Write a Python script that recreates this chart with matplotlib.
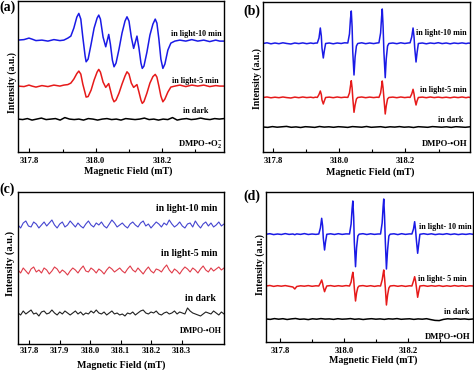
import numpy as np
import matplotlib.pyplot as plt

plt.rcParams['font.family'] = ['Liberation Serif', 'DejaVu Serif']
plt.rcParams['font.weight'] = 'bold'
plt.rcParams['mathtext.fontset'] = 'custom'
plt.rcParams['mathtext.rm'] = 'Liberation Serif:bold'
plt.rcParams['mathtext.it'] = 'Liberation Serif:bold'
plt.rcParams['mathtext.bf'] = 'Liberation Serif:bold'

# ---- panel (a): DMPO-O2- spectra ----
field_a = [317.766, 317.784, 317.799, 317.808, 317.820, 317.838, 317.856, 317.874, 317.892, 317.904,
           317.916, 317.925, 317.934, 317.943, 317.949, 317.955, 317.961, 317.968, 317.971, 317.977,
           317.986, 317.995, 318.004, 318.009, 318.014, 318.022, 318.030, 318.039, 318.044, 318.050,
           318.055, 318.061, 318.070, 318.079, 318.088, 318.094, 318.100, 318.107, 318.114, 318.124,
           318.130, 318.136, 318.140, 318.145, 318.154, 318.163, 318.172, 318.179, 318.184, 318.190,
           318.196, 318.202, 318.208, 318.217, 318.226, 318.238, 318.253, 318.271, 318.289, 318.307,
           318.325, 318.343, 318.361, 318.373, 318.386]
light10_a = [112, 112.5, 114, 113, 111.5, 112, 111, 112.5, 111.5, 112,
             114, 116, 124, 135, 138.7, 133, 115, 96, 90.3, 93,
             108, 124, 134, 137, 133, 115, 105.3, 117.7, 108, 92,
             85.3, 89, 103, 119, 131, 135.3, 131, 115, 103.7, 116,
             104, 89, 83.7, 86, 100, 117, 128, 133, 129, 113,
             93, 83.7, 88, 102, 109, 111, 112, 111, 112.5, 111,
             112, 110.5, 112, 111, 111]
light5_a = [66, 65.5, 67, 66, 65, 66.5, 65.5, 67, 66, 67,
            67.5, 69, 73, 78.5, 81, 78, 68, 59, 55, 55.5,
            62, 72, 80, 82.7, 80, 70, 64.7, 68.5, 62, 54,
            50.3, 52, 59, 68, 76, 80.3, 78, 69, 64.7, 67.5,
            60, 52, 48.7, 50.5, 59, 69, 75.5, 77.7, 75, 66,
            56, 50.3, 53, 60, 65, 66, 67, 65.5, 67, 66,
            67, 65.5, 66.5, 66, 66]
dark_a = [33, 32.5, 33.5, 32, 33, 34, 32.5, 33, 33.5, 32, 34.5, 33, 32.5, 33, 32,
          33.5, 33, 32, 33, 33.5, 32.5, 33, 32, 33.5, 33, 32.5, 33, 34, 32.5, 33,
          32, 33, 32.5, 34.5, 32, 33, 33.5, 32.5, 33, 34, 33, 32.5, 33.5, 33, 33.5]

# ---- panel (b): DMPO-OH spectra ----
field_b = [317.770, 317.782, 317.794, 317.806, 317.818, 317.830, 317.842, 317.854, 317.866, 317.878,
           317.890, 317.902, 317.914, 317.922, 317.928, 317.934, 317.939, 317.943, 317.946, 317.948,
           317.952, 317.955, 317.959, 317.970, 317.982, 317.994, 318.006, 318.016, 318.026, 318.031,
           318.034, 318.0365, 318.039, 318.041, 318.0447, 318.048, 318.052, 318.056, 318.068, 318.080,
           318.092, 318.104, 318.114, 318.120, 318.125, 318.128, 318.130, 318.1325, 318.135, 318.139,
           318.142, 318.146, 318.150, 318.162, 318.174, 318.186, 318.198, 318.208, 318.214, 318.219,
           318.223, 318.226, 318.228, 318.232, 318.235, 318.239, 318.251, 318.263, 318.275, 318.287,
           318.299, 318.311, 318.323, 318.335, 318.347, 318.359, 318.371, 318.383, 318.390, 318.395]
light10_b = [108.5, 109.2, 108.2, 109.0, 108.3, 109.2, 108.5, 108.0, 109.0, 108.4,
             109.1, 108.3, 109.0, 108.5, 108.9, 109.0, 114, 124, 116, 104,
             94, 101, 108.5, 109.0, 108.2, 109.0, 108.5, 109.2, 109.0, 118,
             133, 141, 125, 100, 77, 95, 106, 108.5, 109.2, 108.3,
             109.0, 108.4, 109.0, 109.2, 119, 135, 143, 126, 100, 74.3,
             93, 106, 108.5, 109.0, 108.3, 109.2, 108.5, 109.0, 109.2, 115,
             124, 115, 104, 90, 99, 108.5, 109.0, 108.2, 109.0, 108.5,
             109.3, 108.4, 109.0, 108.2, 109.0, 108.5, 109.1, 108.4, 108.9, 108.8]
light5_b = [54.5, 55.0, 54.2, 54.8, 54.3, 55.0, 54.4, 54.0, 54.9, 54.3,
            55.0, 54.4, 54.8, 54.3, 54.8, 54.6, 57.5, 61, 57.5, 52,
            48, 51, 54.5, 54.9, 54.3, 55.0, 54.4, 54.8, 54.6, 59,
            66, 71.3, 64, 54, 39.7, 47, 53, 54.5, 55.0, 54.3,
            54.9, 54.4, 54.8, 54.6, 59, 66, 71, 64, 54, 38,
            46, 53, 54.5, 54.9, 54.3, 55.0, 54.4, 54.8, 54.6, 58,
            62.7, 58, 53, 47, 51, 54.5, 54.9, 54.3, 55.0, 54.4,
            54.9, 54.3, 54.8, 54.2, 54.9, 54.4, 55.0, 54.3, 54.8, 54.6]
dark_b = [25, 24.6, 25.4, 24.8, 25.2, 25.6, 24.7, 25.1, 24.5, 25.3, 25.0, 24.6, 25.5, 24.9, 25.2,
          24.7, 25.3, 25.0, 24.6, 25.4, 25.1, 24.8, 25.5, 24.7, 25.0, 25.3, 24.6, 25.2, 24.9, 25.4,
          24.8, 25.1, 24.5, 25.3, 25.0, 24.7, 25.4, 25.1, 24.8, 25.2, 24.6, 25.3, 25.0, 24.7, 25.2]

# ---- panel (c): no signal ----
light10_c = [119, 116, 121, 123, 118, 117, 122, 120, 116, 119, 122, 118, 121, 124, 119, 116,
             120, 122, 117, 119, 123, 120, 117, 121, 118, 116, 120, 123, 119, 117, 121, 119,
             122, 118, 116, 120, 124, 121, 117, 119, 121, 118, 116, 120, 122, 119, 117, 121,
             123, 118, 120, 116, 119, 122, 120, 117, 121, 119, 124, 120, 117, 119, 122, 118,
             116, 120, 121, 117, 123, 119, 116, 120, 122, 118, 121, 117, 119, 122, 118, 120]
light5_c = [74, 71, 76, 73, 70, 75, 77, 72, 74, 71, 76, 74, 70, 73, 77, 75,
            71, 74, 72, 69, 73, 76, 74, 71, 75, 78, 73, 72, 76, 74, 71, 75,
            73, 70, 74, 77, 75, 72, 74, 76, 73, 71, 75, 78, 74, 72, 76, 73,
            70, 74, 77, 73, 71, 75, 74, 72, 76, 79, 74, 71, 75, 73, 70, 74,
            77, 75, 72, 76, 74, 71, 75, 78, 74, 72, 76, 73, 75, 77, 74, 76]
dark_c = [31, 29, 33, 30, 32, 34, 30, 31, 28, 32, 33, 30, 31, 34, 31, 29,
          32, 30, 33, 31, 29, 31, 33, 30, 32, 29, 31, 30, 33, 31, 34, 31,
          30, 32, 29, 31, 33, 30, 31, 29, 30, 28, 31, 30, 32, 29, 31, 33,
          34, 31, 30, 32, 31, 33, 30, 29, 31, 32, 30, 31, 33, 30, 32, 31,
          30, 36, 33, 31, 30, 29, 28, 30, 32, 31, 30, 33, 31, 29, 32, 30]

# ---- panel (d): DMPO-OH spectra ----
field_d = [317.756, 317.768, 317.780, 317.792, 317.804, 317.816, 317.828, 317.840, 317.846, 317.852,
           317.864, 317.876, 317.888, 317.900, 317.912, 317.921, 317.926, 317.930, 317.933, 317.935,
           317.939, 317.942, 317.946, 317.958, 317.970, 317.982, 317.994, 318.006, 318.017, 318.022,
           318.025, 318.0274, 318.030, 318.032, 318.0358, 318.039, 318.043, 318.047, 318.059, 318.071,
           318.083, 318.095, 318.106, 318.114, 318.119, 318.122, 318.124, 318.1265, 318.129, 318.1324,
           318.136, 318.140, 318.144, 318.156, 318.168, 318.180, 318.192, 318.204, 318.212, 318.217,
           318.2206, 318.2235, 318.226, 318.230, 318.233, 318.237, 318.249, 318.261, 318.273, 318.285,
           318.297, 318.309, 318.321, 318.333, 318.345, 318.357, 318.369, 318.381, 318.393, 318.403]
light10_d = [107.7, 108.3, 107.4, 108.0, 107.5, 108.4, 107.6, 108.0, 107.3, 108.1,
             107.6, 108.4, 107.5, 108.0, 107.6, 108.0, 114, 123.7, 116, 104,
             92, 100, 107.7, 108.2, 107.5, 108.3, 107.6, 108.1, 108.0, 118,
             133, 141, 125, 100, 75.3, 94, 106, 107.8, 108.3, 107.5,
             108.2, 107.6, 108.0, 108.0, 119, 135, 143, 126, 100, 73,
             92, 106, 107.8, 108.2, 107.4, 108.3, 107.6, 108.1, 108.0, 113,
             120.3, 112, 102, 88.7, 97, 107.7, 108.3, 107.6, 108.2, 107.4,
             108.0, 107.6, 108.3, 107.5, 108.1, 107.4, 108.0, 107.6, 108.2, 107.7]
light5_d = [56, 56.5, 55.6, 56.3, 55.8, 56.4, 55.7, 55.0, 53, 55.5,
            56.2, 55.8, 56.4, 55.7, 56.2, 56, 59, 62, 58.5, 55,
            50.3, 53, 56, 56.4, 55.7, 56.3, 55.8, 56.4, 56, 60,
            66, 69.7, 63, 54, 41, 49, 54.5, 56, 56.4, 55.7,
            56.3, 55.6, 56.2, 56, 62, 68, 72, 64, 54, 37,
            47, 54, 56, 56.4, 55.7, 56.3, 55.6, 56.2, 56, 61,
            65.3, 61, 55, 44.7, 50, 56, 56.4, 55.7, 56.3, 55.8,
            56.4, 55.6, 56.2, 55.7, 56.4, 55.8, 56.3, 55.7, 56.2, 56]
dark_d = [23, 22.6, 23.4, 22.8, 23.3, 22.5, 23.1, 23.5, 22.7, 23.0, 22.4, 23.2, 22.8, 23.4, 22.9,
          23.1, 22.6, 23.3, 22.8, 23.0, 23.4, 22.7, 23.1, 22.5, 23.0, 23.3, 22.8, 23.1, 22.6, 23.2,
          22.9, 23.4, 22.7, 23.0, 23.2, 22.6, 23.1, 22.8, 23.3, 22.4, 21.6, 21.4, 22.6, 23.2, 22.9,
          23.3, 22.8, 23.1, 22.6, 23.0]

xlims = {'a': (317.766, 318.386), 'b': (317.770, 318.395),
         'c': (317.764, 318.439), 'd': (317.756, 318.403)}

fig = plt.figure(figsize=(4.74, 3.70), dpi=100)
ax_a = fig.add_axes([0.038, 0.589, 0.4346, 0.408])
ax_b = fig.add_axes([0.5549, 0.5892, 0.4367, 0.4054])
ax_c = fig.add_axes([0.038, 0.0703, 0.4346, 0.4108])
ax_d = fig.add_axes([0.5612, 0.0757, 0.4367, 0.4054])

blue, red = '#1a1ae6', '#e61a1a'

ax_a.plot(field_a, light10_a, color=blue, lw=1.1)
ax_a.plot(field_a, light5_a, color=red, lw=1.1)
ax_a.plot(np.linspace(*xlims['a'], len(dark_a)), dark_a, color='black', lw=1.1)
ax_a.set_ylim(0, 151)

ax_b.plot(field_b, light10_b, color=blue, lw=1.1)
ax_b.plot(field_b, light5_b, color=red, lw=1.1)
ax_b.plot(np.linspace(*xlims['b'], len(dark_b)), dark_b, color='black', lw=1.1)
ax_b.set_ylim(0, 150)

xc = np.linspace(*xlims['c'], len(light10_c))
ax_c.plot(xc, light10_c, color='#4545d0', lw=0.8)
ax_c.plot(xc, light5_c, color='#e03c4a', lw=0.8)
ax_c.plot(xc, dark_c, color='#202020', lw=0.8)
ax_c.set_ylim(0, 152)

ax_d.plot(field_d, light10_d, color=blue, lw=1.1)
ax_d.plot(field_d, light5_d, color=red, lw=1.1)
ax_d.plot(np.linspace(*xlims['d'], len(dark_d)), dark_d, color='black', lw=1.1)
ax_d.set_ylim(0, 150)

for key, ax in zip('abcd', [ax_a, ax_b, ax_c, ax_d]):
    ax.set_xlim(*xlims[key])
    ax.set_yticks([])
    if key == 'c':
        ax.set_xticks([317.8, 317.9, 318.0, 318.1, 318.2, 318.3])
    else:
        ax.set_xticks([317.8, 318.0, 318.2])
        ax.set_xticks([317.9, 318.1, 318.3], minor=True)
    ax.xaxis.set_major_formatter(plt.FormatStrFormatter('%.1f'))
    ax.tick_params(axis='x', which='major', direction='in', length=3, width=0.8,
                   labelsize=6.2, pad=3.5 if key != 'c' else 2.5)
    ax.tick_params(axis='x', which='minor', direction='in', length=2, width=0.8)
    for sp in ax.spines.values():
        sp.set_linewidth(1.0)
    ax.set_xlabel('Magnetic Field (mT)', fontsize=7.2, fontweight='bold')
    ax.set_ylabel('Intensity (a.u.)', fontsize=7 if key != 'c' else 7.5,
                  fontweight='bold')

ax_a.xaxis.set_label_coords(0.535, -0.098)
ax_b.xaxis.set_label_coords(0.517, -0.101)
ax_c.xaxis.set_label_coords(0.5, -0.109)
ax_d.xaxis.set_label_coords(0.517, -0.09)
ax_a.yaxis.set_label_coords(-0.005, 0.46)
ax_b.yaxis.set_label_coords(-0.005, 0.487)
ax_c.yaxis.set_label_coords(-0.015, 0.533)
ax_d.yaxis.set_label_coords(-0.003, 0.513)

small = dict(fontsize=5.8, fontweight='bold', ha='right', va='center')
tag = dict(fontsize=6.2, fontweight='bold', ha='right', va='center')
ax_a.text(0.989, 0.781, 'in light-10 min', transform=ax_a.transAxes, **small)
ax_a.text(0.972, 0.472, 'in light-5 min', transform=ax_a.transAxes, **small)
ax_a.text(0.924, 0.272, 'in dark', transform=ax_a.transAxes, **small)
ax_a.text(0.989, 0.053, r'DMPO-•O$_2^{-}$', transform=ax_a.transAxes, **tag)

ax_b.text(0.986, 0.791, 'in light-10 min', transform=ax_b.transAxes, **small)
ax_b.text(0.986, 0.413, 'in light-5 min', transform=ax_b.transAxes, **small)
ax_b.text(0.969, 0.211, 'in dark', transform=ax_b.transAxes, **small)
ax_b.text(0.986, 0.053, 'DMPO-•OH', transform=ax_b.transAxes, **tag)

big = dict(fontsize=7, fontweight='bold', ha='right', va='center')
ax_c.text(0.968, 0.893, 'in light-10 min', transform=ax_c.transAxes, **big)
ax_c.text(0.968, 0.597, 'in light-5 min', transform=ax_c.transAxes, **big)
ax_c.text(0.961, 0.296, 'in dark', transform=ax_c.transAxes, **big)
ax_c.text(0.989, 0.086, 'DMPO-•OH', transform=ax_c.transAxes, **small)

ax_d.text(0.995, 0.767, 'in light- 10 min', transform=ax_d.transAxes, **small)
ax_d.text(0.971, 0.418, 'in light- 5 min', transform=ax_d.transAxes, **small)
ax_d.text(0.982, 0.202, 'in dark', transform=ax_d.transAxes, **small)
ax_d.text(0.987, 0.035, 'DMPO-•OH', transform=ax_d.transAxes, **tag)

for lab, x, y in [('(a)', 0.0158, 0.981), ('(b)', 0.532, 0.970),
                  ('(c)', 0.0148, 0.489), ('(d)', 0.532, 0.470)]:
    fig.text(x, y, lab, fontsize=10, fontweight='bold', ha='center', va='center')

fig.savefig('out.png', dpi=100)
